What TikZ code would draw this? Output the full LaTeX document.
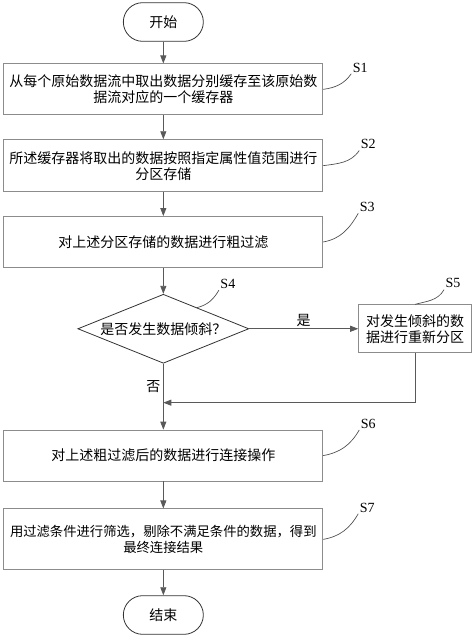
\documentclass[tikz,border=0pt]{standalone}
\usepackage{fontspec}
\setmainfont{Liberation Serif}
\newfontfamily\cjk{Noto Sans CJK SC}
\usetikzlibrary{arrows.meta, positioning, shapes.geometric}

\begin{document}
\begin{tikzpicture}[
    font=\cjk\fontsize{10.5pt}{12pt}\selectfont,
    box/.style={rectangle, draw=black!45, line width=0.6pt, minimum width=239.25pt, align=center, inner sep=2pt},
    terminal/.style={rectangle, draw=black!80, line width=0.6pt, rounded corners=14.5pt, minimum width=60pt, minimum height=29pt},
    decision/.style={diamond, draw=black!80, line width=0.6pt, aspect=2.48, inner sep=0.5pt, minimum width=128.25pt, minimum height=51.75pt},
    sidebox/.style={rectangle, draw=black!45, line width=0.6pt, minimum width=84.75pt, minimum height=36pt, align=center, inner sep=1pt},
    steplabel/.style={font=\rmfamily\fontsize{10.5pt}{12pt}\selectfont, inner sep=1pt},
    leader/.style={draw=black!70, line width=0.5pt},
    arrow/.style={-{Triangle[length=6pt, width=4.5pt]}, draw=black!65, line width=0.6pt}
]

% Frame
\useasboundingbox (0,0) rectangle (355.5pt,-476.25pt);

% Main column
\node[terminal] (start) at (122.5pt,-16.5pt) {开始};
\node[box, minimum height=38.25pt, below=16.3pt of start] (s1) {从每个原始数据流中取出数据分别缓存至该原始数\\据流对应的一个缓存器};
\node[box, minimum height=39pt, below=18pt of s1] (s2) {所述缓存器将取出的数据按照指定属性值范围进行\\分区存储};
\node[box, minimum height=38.25pt, below=18pt of s2] (s3) {对上述分区存储的数据进行粗过滤};
\node[decision, below=19.5pt of s3] (s4) {是否发生数据倾斜？};
\node[sidebox, right=81.75pt of s4] (s5) {对发生倾斜的数\\据进行重新分区};
\coordinate[below=29.25pt of s4] (merge);
\node[box, minimum height=38.25pt, below=49.5pt of s4] (s6) {对上述粗过滤后的数据进行连接操作};
\node[box, minimum height=45.75pt, below=20.25pt of s6, font=\cjk\fontsize{10pt}{12pt}\selectfont] (s7) {用过滤条件进行筛选，剔除不满足条件的数据，得到\\最终连接结果};
\node[terminal, below=18.75pt of s7] (stop) {结束};

% Step labels
\node[steplabel] (l1) at ([xshift=27.75pt, yshift=-3pt]s1.north east) {S1};
\node[steplabel] (l2) at ([xshift=33.75pt, yshift=-3.75pt]s2.north east) {S2};
\node[steplabel] (l3) at ([xshift=33pt, yshift=6.75pt]s3.north east) {S3};
\node[steplabel] (l4) at ([xshift=48.4pt, yshift=7.5pt]s4.north) {S4};
\node[steplabel] (l5) at ([xshift=-14.25pt, yshift=15.75pt]s5.north east) {S5};
\node[steplabel] (l6) at ([xshift=33.75pt, yshift=4.5pt]s6.north east) {S6};
\node[steplabel] (l7) at ([xshift=33pt, yshift=0.75pt]s7.north east) {S7};

% Leaders to labels
\draw[leader] (s1.east) to[out=8, in=-125] (l1.south west);
\draw[leader] (s2.east) to[out=8, in=-125] (l2.south west);
\draw[leader] (s3.east) to[out=10, in=-120] (l3.south west);
\draw[leader] (s4.32) to[out=15, in=-120] (l4.south west);
\draw[leader] (s5.north) to[out=15, in=-120] (l5.south west);
\draw[leader] (s6.east) to[out=10, in=-120] (l6.south west);
\draw[leader] (s7.east) to[out=10, in=-120] (l7.south west);

% Flow
\draw[arrow] (start) -- (s1);
\draw[arrow] (s1) -- (s2);
\draw[arrow] (s2) -- (s3);
\draw[arrow] (s3) -- (s4);
\draw[arrow] (s4) -- node[midway, above, inner sep=1.5pt] {是} (s5);
\draw[arrow] (s5.south) |- (merge);
\draw[arrow] (s4) -- node[pos=0.35, left, inner sep=2pt] {否} (s6);
\draw[arrow] (s6) -- (s7);
\draw[arrow] (s7) -- (stop);

\end{tikzpicture}
\end{document}
